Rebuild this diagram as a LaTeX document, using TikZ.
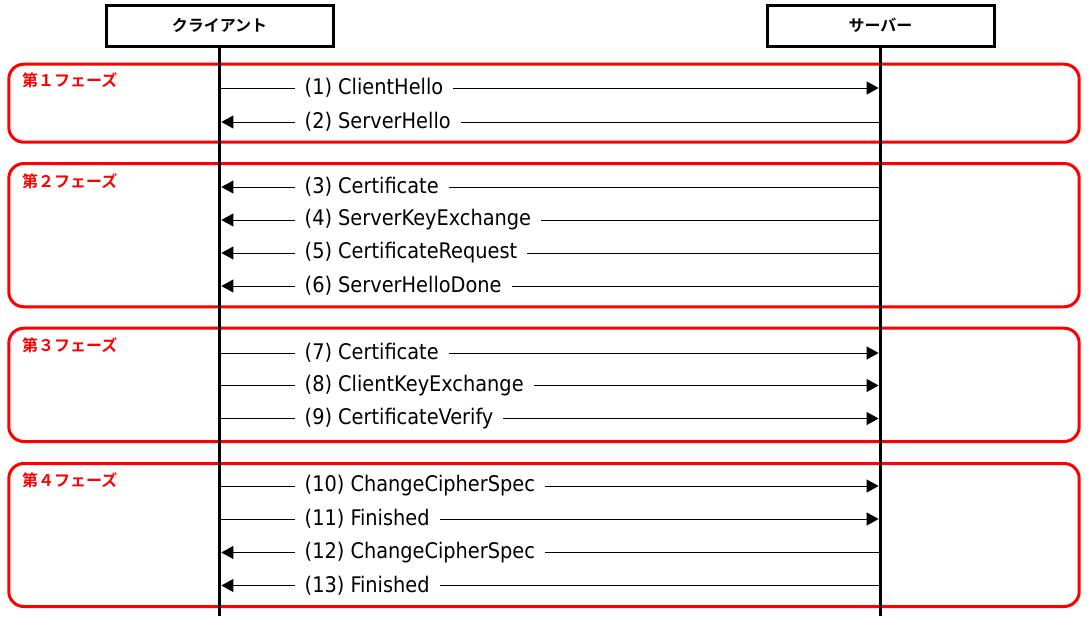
\documentclass[tikz,border=0pt]{standalone}
\usepackage{fontspec}
\setmainfont{DejaVu Sans Condensed}
\newfontfamily\jpfont{Noto Sans CJK JP}[BoldFont={* Bold}]
\usetikzlibrary{arrows.meta}
\begin{document}
\begin{tikzpicture}[x=1pt,y=-1pt,
  actor/.style={draw=black,line width=3pt,minimum width=227pt,minimum height=41pt,inner sep=0pt,font=\jpfont\bfseries\fontsize{16pt}{18pt}\selectfont},
  lifeline/.style={line width=3.8pt,black},
  phasebox/.style={draw=red,line width=3pt,rounded corners=15pt},
  phaselabel/.style={anchor=west,inner sep=0pt,text=red,font=\jpfont\bfseries\fontsize{16pt}{18pt}\selectfont},
  msg/.style={line width=1pt,-{Triangle[length=12pt,width=13pt]},shorten >=1.9pt},
  msglabel/.style={anchor=west,fill=white,inner xsep=10pt,inner ysep=1pt,font=\fontsize{21.5pt}{24pt}\selectfont}
]
\useasboundingbox (0,0) rectangle (1090,616);
\fill[white] (0,0) rectangle (1090,616);
% phase boxes
\draw[phasebox] (8.8,64.2) rectangle (1079.2,142.2);
\draw[phasebox] (8.8,163.5) rectangle (1079.2,306.8);
\draw[phasebox] (8.8,328.2) rectangle (1079.2,441.5);
\draw[phasebox] (8.8,463.5) rectangle (1079.2,606.5);
\node[phaselabel] (p1) at (22,80.5) {第１フェーズ};
\node[phaselabel] (p2) at (22,181) {第２フェーズ};
\node[phaselabel] (p3) at (22,345) {第３フェーズ};
\node[phaselabel] (p4) at (22,480) {第４フェーズ};
% actors
\node[actor] (client) at (219.5,25.5) {クライアント};
\node[actor] (server) at (880.5,25.5) {サーバー};
\coordinate (cend) at (219.5,616);
\coordinate (send) at (880.5,616);
\draw[lifeline] (client.south) -- (cend);
\draw[lifeline] (server.south) -- (send);
% messages
\foreach \i/\y/\dir/\txt in {
  1/88/r/{(1) ClientHello},
  2/122/l/{(2) ServerHello},
  3/187/l/{(3) Certificate},
  4/220/l/{(4) ServerKeyExchange},
  5/253/l/{(5) CertificateRequest},
  6/286/l/{(6) ServerHelloDone},
  7/353/r/{(7) Certificate},
  8/385.5/r/{(8) ClientKeyExchange},
  9/418.5/r/{(9) CertificateVerify},
  10/486/r/{(10) ChangeCipherSpec},
  11/519/r/{(11) Finished},
  12/552.5/l/{(12) ChangeCipherSpec},
  13/585.5/l/{(13) Finished}}{
  \coordinate (c\i) at (219.5,\y);
  \coordinate (s\i) at (880.5,\y);
  \if r\dir
    \draw[msg] (c\i) -- (s\i);
  \else
    \draw[msg] (s\i) -- (c\i);
  \fi
  \node[msglabel] (m\i) at (294.5,\y) {\txt};
}
\end{tikzpicture}
\end{document}
